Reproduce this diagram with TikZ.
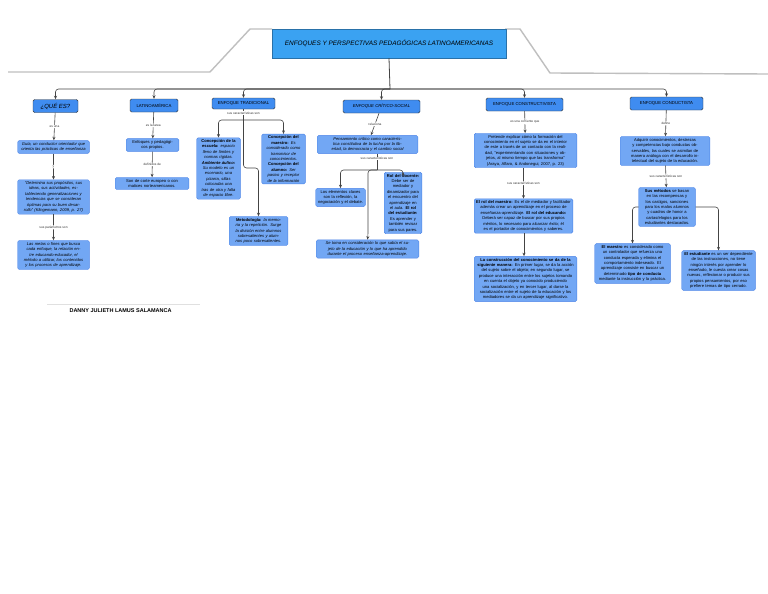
\documentclass[tikz,border=0pt]{standalone}
\usepackage{fontspec}
\setmainfont{Liberation Sans}
\usetikzlibrary{arrows.meta}
\definecolor{boxc}{HTML}{72A7F4}
\definecolor{bdr}{HTML}{4F86E8}
\definecolor{hdr}{HTML}{3F8CF0}
\definecolor{ttl}{HTML}{3AA2F2}
\definecolor{ln}{HTML}{444444}
\newcommand{\bxf}{\fontsize{4.1}{5.4}\selectfont}
\tikzset{
 box/.style={draw=bdr, fill=boxc, rounded corners=1.5pt, align=center, inner sep=1.8pt, font=\bxf},
 ibox/.style={box, font=\bxf\itshape},
 hbox/.style={draw=ln!80!black, fill=hdr, rounded corners=1.5pt, align=center, inner sep=1pt, minimum height=13, font=\fontsize{4.3}{5}\selectfont},
 conn/.style={draw=ln, line width=0.6pt, rounded corners=3pt, -{Stealth[length=3.5pt,width=3pt]}},
 lab/.style={fill=white, inner sep=0.6pt, font=\fontsize{3.2}{3.8}\selectfont, text=black!80},
 deco/.style={draw=black!25, line width=1.4pt},
}
\begin{document}
\begin{tikzpicture}[x=1pt,y=-1pt]
\useasboundingbox (0,0) rectangle (768,594);
\fill[white] (0,0) rectangle (768,594);
\draw[deco] (8,72) -- (210,72) -- (250,29) -- (272,29);
\draw[deco] (505,29) -- (520,29) -- (550,73) -- (768,74);
\node[fill=ttl, draw=ttl!70!black, minimum width=234, minimum height=29, font=\fontsize{6.4}{7}\selectfont\itshape] (title) at (389,43.5) {ENFOQUES Y PERSPECTIVAS PEDAGÓGICAS LATINOAMERICANAS};

% headers
\node[hbox, minimum width=45, font=\fontsize{6}{7}\selectfont\itshape] (q) at (55.5,106) {¿QUÉ ES?};
\node[hbox, minimum width=48] (lat) at (154,105.5) {LATINOAMÉRICA};
\node[hbox, minimum width=63, minimum height=11] (trad) at (243.5,103.5) {ENFOQUE TRADICIONAL};
\node[hbox, minimum width=77, font=\fontsize{4.3}{5}\selectfont\itshape] (crit) at (381.5,106.5) {ENFOQUE CRÍTICO-SOCIAL};
\node[hbox, minimum width=77] (cons) at (524.5,104.5) {ENFOQUE CONSTRUCTIVISTA};
\node[hbox, minimum width=73] (cond) at (666.5,103.5) {ENFOQUE CONDUCTISTA};
\coordinate (j) at (390,89);
\draw[draw=ln, line width=0.8pt] (title.south) -- (j);
\foreach \n in {q,lat,trad,crit,cons,cond} \draw[conn] (j) -| (\n.north);

% column 1
\node[ibox, text width=68] (a1) at (53.5,147) {Guía, un conductor orientador que orienta las prácticas de enseñanza};
\node[ibox, text width=68] (a2) at (53.5,197) {"Determina sus propósitos, sus ideas, sus actividades, estableciendo generalizaciones y tendencias que se consideran óptimas para su buen desarrollo" (Klingemann, 2009, p. 27)};
\node[ibox, text width=68] (a3) at (53.5,255) {Las metas o fines que busca cada enfoque, la relación entre educando-educador, el método a utilizar, los contenidos y los procesos de aprendizaje.};
\draw[conn] (q) -- node[lab]{es una} (a1);
\draw[conn] (a1) -- node[lab]{y} (a2);
\draw[conn] (a2) -- node[lab]{sus parámetros son} (a3);

% column 2
\node[box, text width=49] (b1) at (152.5,145) {Enfoques y pedagógicos propios.};
\node[box, text width=70] (b2) at (152,183.5) {Son de corte europeo o con matices norteamericanos.};
\draw[conn] (lat) -- node[lab]{es la tarea} (b1);
\draw[conn] (b1) -- node[lab]{definidos de} (b2);

% column 3
\node[box, text width=40] (tL) at (218.5,168.5) {\textbf{Concepción de la escuela:} \textit{espacio lleno de límites y normas rígidas.} \textbf{\textit{Ambiente áulico:}} \textit{Su modelo es un escenario, una pizarra, sillas colocadas una tras de otra y falta de espacio libre.}};
\node[box, text width=40] (tR) at (283.5,159) {\textbf{Concepción del maestro:} \textit{Es considerado como transmisor de conocimientos.} \textbf{Concepción del alumno:} \textit{Ser pasivo y receptor de la información}};
\node[box, text width=55] (tB) at (258.5,231) {\textbf{Metodología:} \textit{la memoria y la repetición. Surge la división entre alumnos sobresalientes y alumnos poco sobresalientes.}};
\coordinate (t0) at (243.5,120);
\draw[draw=ln, line width=0.6pt] (trad.south) -- node[lab, pos=0.35]{sus características son} (t0);
\draw[conn] (t0) -| (tL.north);
\draw[conn] (t0) -| (tR.north);
\draw[conn] (t0) |- (252,168) -| (tB.north);

% column 4
\node[ibox, text width=97] (c1) at (367.5,144.5) {Pensamiento crítico como característica constitutiva de la lucha por la libertad, la democracia y el cambio social};
\node[box, text width=46] (cL) at (340.5,197.5) {Los elementos claves son la reflexión, la negociación y el debate.};
\node[box, text width=34] (cR) at (403,203) {\textbf{Rol del docente:} Debe ser de mediador y dinamizador para el encuentro del aprendizaje en el aula. \textbf{El rol del estudiante:} Es aprender y también revisar para sus pares.};
\node[ibox, text width=99] (cB) at (367.5,249) {Se toma en consideración lo que sabía el sujeto de la educación y lo que ha aprendido durante el proceso enseñanza-aprendizaje.};
\draw[conn] (crit) -- node[lab]{relaciona} (c1);
\coordinate (c0) at (377,170);
\draw[draw=ln, line width=0.6pt] (c1.south -| c0) -- node[lab, pos=0.3]{sus características son} (c0);
\draw[conn] (c0) -| (cL.north);
\draw[conn] (c0) -| (cR.north);
\draw[conn] (c0) -| (368,235) -- (cB.north);

% column 5
\node[box, text width=99] (d1) at (525.5,150.5) {Pretende explicar cómo la formación del conocimiento en el sujeto se da en el interior de este a través de un contacto con la realidad, "experimentando con situaciones y objetos, al mismo tiempo que las transforma" (Araya, Alfaro, \& Andonegui, 2007, p. 23)};
\node[box, text width=95] (d2) at (523.5,216) {\textbf{El rol del maestro:} Es el de mediador y facilitador además crear un aprendizaje en el proceso de enseñanza-aprendizaje. \textbf{El rol del educando:} Deberá ser capaz de buscar por sus propios méritos, lo necesario para alcanzar éxito; él es el portador de conocimientos y saberes.};
\node[box, text width=99] (d3) at (525.5,279) {\textbf{La construcción del conocimiento se da de la siguiente manera:} En primer lugar, se da la acción del sujeto sobre el objeto; en segundo lugar, se produce una interacción entre los sujetos tomando en cuenta el objeto ya conocido produciendo una socialización, y en tercer lugar, al darse la socialización entre el sujeto de la educación y los mediadores se da un aprendizaje significativo.};
\draw[conn] (cons) -- node[lab]{es una corriente que} (d1);
\draw[conn] (d1.south -| d2.north) -- node[lab]{sus características son} (d2);
\draw[conn] (d2.south -| 524,0) -- (d3.north -| 524,0);

% column 6
\node[box, text width=86] (e1) at (665,151) {Adquirir conocimientos, destrezas y competencias bajo conductas observables, las cuales se asimilan de manera análoga con el desarrollo intelectual del sujeto de la educación.};
\node[box, text width=53] (e2) at (667,207) {\textbf{Sus métodos} se basan en las recompensas y los castigos, sanciones para los malos alumnos y cuadros de honor a cartas/elogios para los estudiantes destacados.};
\node[box, text width=72] (eL) at (632.5,263.5) {\textbf{El maestro} es considerado como un controlador que refuerza una conducta esperada y elimina el comportamiento indeseado. El aprendizaje consiste en buscar un determinado \textbf{tipo de conducta} mediante la instrucción y la práctica.};
\node[box, text width=70] (eR) at (718.5,270.5) {\textbf{El estudiante} es un ser dependiente de las instrucciones, no tiene ningún interés por aprender lo enseñado, le cuesta crear cosas nuevas, reflexionar o producir sus propios pensamientos, por eso prefiere temas de tipo cerrado.};
\draw[conn] (cond) -- node[lab]{define} (e1);
\draw[conn] (e1) -- node[lab]{sus características son} (e2);
\draw[conn] (e2.west) -| (eL.north);
\draw[conn] (e2.east) -| (eR.north);

% author
\draw[draw=black!12, line width=0.6pt] (47,304) -- (200,304);
\node[font=\fontsize{5.5}{6}\selectfont\bfseries, anchor=west] (auth) at (66,311) {DANNY JULIETH LAMUS SALAMANCA};
\end{tikzpicture}
\end{document}
